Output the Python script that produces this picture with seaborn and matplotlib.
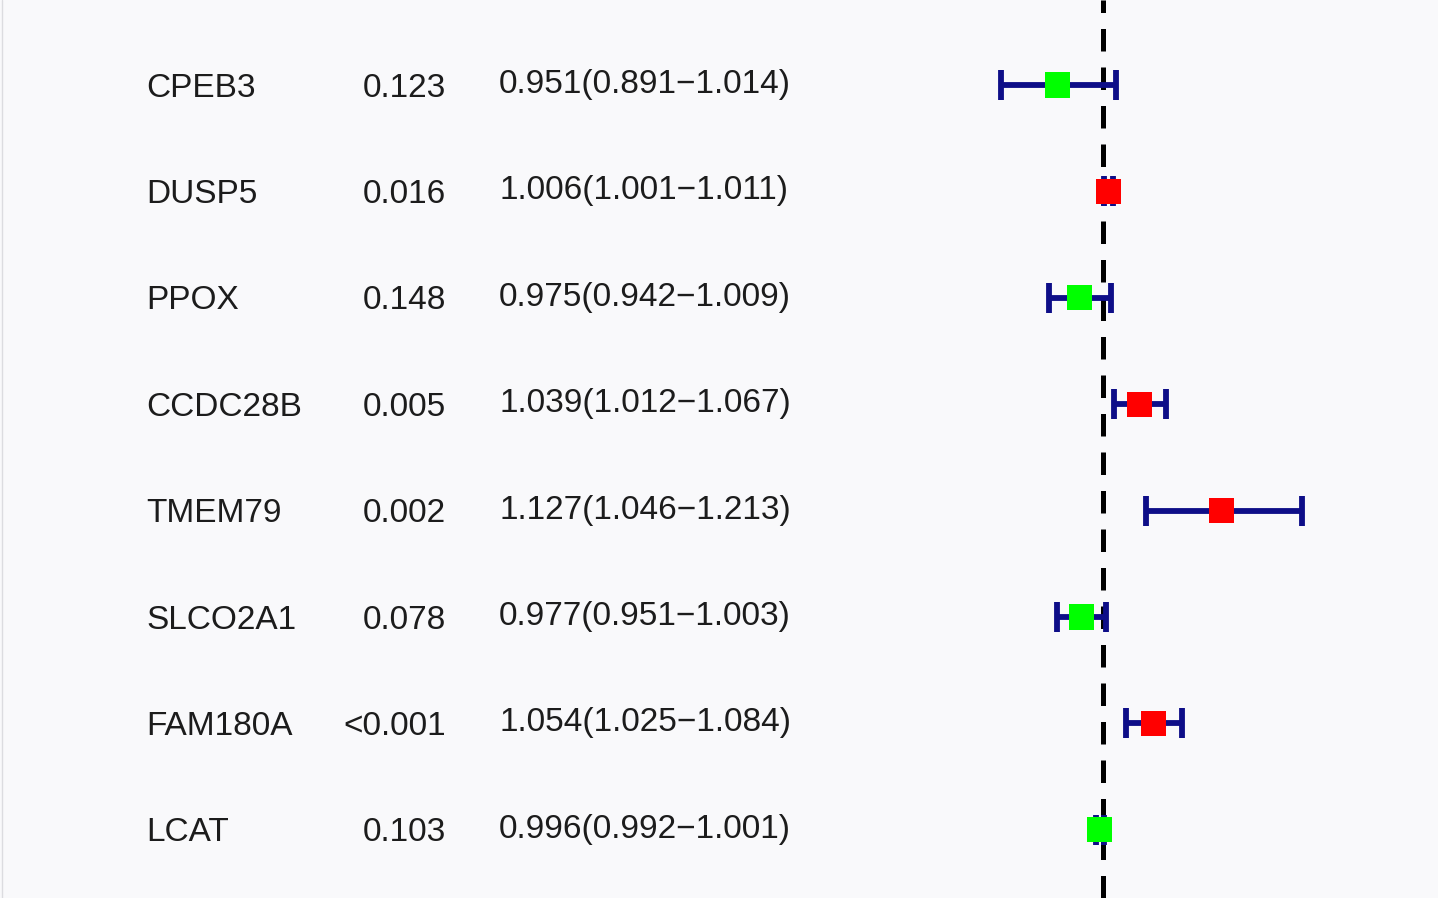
import numpy as np
import pandas as pd
import seaborn as sns
import matplotlib.pyplot as plt
import matplotlib.transforms as mtransforms

# forest plot data
genes = ['CPEB3', 'DUSP5', 'PPOX', 'CCDC28B', 'TMEM79', 'SLCO2A1', 'FAM180A', 'LCAT']
pvals = ['0.123', '0.016', '0.148', '0.005', '0.002', '0.078', '<0.001', '0.103']
hr = [0.951, 1.006, 0.975, 1.039, 1.127, 0.977, 1.054, 0.996]
lower = [0.891, 1.001, 0.942, 1.012, 1.046, 0.951, 1.025, 0.992]
upper = [1.014, 1.011, 1.009, 1.067, 1.213, 1.003, 1.084, 1.001]

df = pd.DataFrame({'gene': genes, 'p': pvals, 'hr': hr, 'lo': lower, 'hi': upper})
df['row'] = np.arange(len(df))
df['risk'] = np.where(df['hr'] > 1, 'high', 'low')
df['label'] = [f'{h:.3f}({l:.3f}\u2212{u:.3f})' for h, l, u in zip(df.hr, df.lo, df.hi)]

sns.set_theme(style='white')
plt.rcParams['font.family'] = ['Liberation Sans', 'DejaVu Sans']

bg = '#f9f9fb'
fig = plt.figure(figsize=(14.38, 8.98), dpi=100, facecolor=bg)
ax = fig.add_axes([0, 0, 1, 1], facecolor=bg)

# reference line at HR = 1
ax.axvline(1, color='black', lw=3.6, ls=(0, (4.5, 3.2)), zorder=1)

# confidence intervals
ax.errorbar(df['hr'], df['row'],
            xerr=[df['hr'] - df['lo'], df['hi'] - df['hr']],
            fmt='none', ecolor='#0e0e88', elinewidth=4.2,
            capsize=11, capthick=4.2, zorder=2)

# point estimates
sns.scatterplot(data=df, x='hr', y='row', hue='risk',
                palette={'high': '#ff0000', 'low': '#00ff00'},
                marker='s', s=330, linewidth=0, legend=False, ax=ax, zorder=3)

# scale so that HR=1 sits at the dashed line
ax.set_xlim(1 - 1103 / 935, 1 + (1438 - 1103) / 935)
ax.set_ylim((898 - 85) / 106.4, -85 / 106.4)
ax.set_axis_off()

# text columns
trans = mtransforms.blended_transform_factory(ax.transAxes, ax.transData)
t_gene = mtransforms.offset_copy(trans, fig=fig, y=-8.4, units='points')
t_hr = mtransforms.offset_copy(trans, fig=fig, y=-5.8, units='points')
txt = dict(fontsize=24, color='#1c1c1c', va='baseline')
for _, r in df.iterrows():
    ax.text(146 / 1438, r['row'], r['gene'], ha='left', transform=t_gene, **txt)
    ax.text(446 / 1438, r['row'], r['p'], ha='right', transform=t_gene, **txt)
    ax.text(499 / 1438, r['row'], r['label'], ha='left', transform=t_hr, **txt)

# faint border on the left edge
fig.add_artist(plt.Line2D([0.0015, 0.0015], [0, 1], color='#dcdce0', lw=1))

fig.savefig('out.png', dpi=100, facecolor=bg)
